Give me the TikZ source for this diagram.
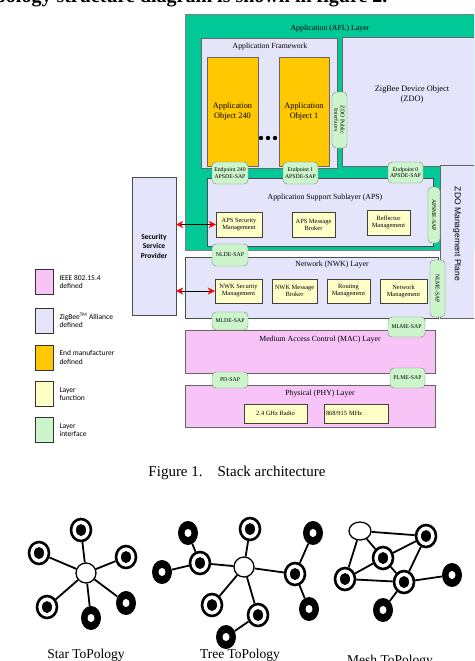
\documentclass[tikz,border=0pt]{standalone}
\usepackage{fontspec}
\setmainfont{Liberation Serif}
\newfontfamily\calfont{Carlito}
\newfontfamily\arialfont{Liberation Sans}
\usetikzlibrary{arrows.meta,shapes.geometric}
\definecolor{aplgreen}{RGB}{0,200,150}
\definecolor{zblav}{RGB}{228,228,250}
\definecolor{mforange}{RGB}{255,200,0}
\definecolor{fnyellow}{RGB}{255,255,200}
\definecolor{sapgreen}{RGB}{204,245,204}
\definecolor{ieeepink}{RGB}{248,196,248}

\begin{document}
\begin{tikzpicture}[x=1pt,y=-1pt,>=Stealth,
        lbl/.style={font=\fontsize{7.8}{8.5}\selectfont,align=center},
        fnbox/.style={draw=black!75,fill=fnyellow,inner sep=0pt,align=center,font=\fontsize{6.4}{7}\selectfont},
        sapbox/.style={draw=black!50,fill=sapgreen,rounded corners=4pt,inner sep=0pt,align=center,font=\fontsize{5.8}{6.3}\selectfont},
        objbox/.style={draw=black!60,fill=mforange,inner sep=0pt,align=center,font=\fontsize{8.3}{10}\selectfont},
        swatch/.style={draw=black!80,line width=0.8pt,minimum width=18pt,minimum height=25pt,inner sep=0pt},
        legtext/.style={anchor=west,align=left,font=\calfont\fontsize{7.5}{8.5}\selectfont},
        hubnode/.style={ellipse,draw,line width=1.3pt,fill=white,minimum width=20pt,minimum height=20pt,inner sep=0pt},
        rtrnode/.style={ellipse,draw,line width=2.6pt,fill=white,minimum width=20pt,minimum height=22pt,inner sep=0pt,
            path picture={\fill[black] (path picture bounding box.center) ellipse [x radius=5pt,y radius=6pt];}},
        endnode/.style={ellipse,fill=black,minimum width=20pt,minimum height=24pt,inner sep=0pt,
            path picture={\fill[white] (path picture bounding box.center) ellipse [x radius=3.5pt,y radius=4pt];}},
        link/.style={line width=1.8pt},
        redtips/.style={{Stealth[red,length=7pt,width=7pt]}-{Stealth[red,length=7pt,width=7pt]}}]
            \useasboundingbox (0,0) rectangle (474,661);
            \clip (0,0) rectangle (474,661);
            \node[anchor=base east,font=\bfseries\fontsize{20}{24}\selectfont] (intro) at (391,2.5) {topology structure diagram is shown in figure 2.};
            \filldraw[fill=aplgreen,draw=black!50] (185,14) rectangle (476,250);
            \node[lbl] (apl) at (330,29) {Application (AFL) Layer};
            \filldraw[fill=zblav,draw=black!60] (201,38) rectangle (337,168);
            \node[lbl] (frame) at (270,47) {Application Framework};
            \node[objbox,minimum width=51pt,minimum height=109pt] (obj240) at (232.5,111.5) {Application\\Object 240};
            \node[objbox,minimum width=50pt,minimum height=109pt] (obj1) at (304,111.5) {Application\\Object 1};
            \fill (261,138) circle [radius=2.2pt];
            \fill (268,138) circle [radius=2.2pt];
            \fill (275,138) circle [radius=2.2pt];
            \filldraw[fill=zblav,draw=black!60] (342,37) rectangle (476,166);
            \node[lbl,font=\fontsize{8.3}{10}\selectfont] (zdo) at (412,95) {ZigBee Device Object\\(ZDO)};
            \node[sapbox,rotate=-90,minimum width=56pt,minimum height=15pt] (zdopub) at (339.5,120) {ZDO Public\\Interfaces};
            \filldraw[fill=zblav,draw=black!60] (440,165) rectangle (476,318);
            \node[rotate=-90,font=\arialfont\fontsize{8.5}{10}\selectfont] (plane) at (457,234) {ZDO Management Plane};
            \filldraw[fill=zblav,draw=black!70] (207,178) rectangle (433,246);
            \node[lbl] (aps) at (325,198) {Application Support Sublayer (APS)};
            \node[fnbox,minimum width=46pt,minimum height=25pt] (apssec) at (239,224.5) {APS Security\\Management};
            \node[fnbox,minimum width=43pt,minimum height=25pt] (apsmsg) at (313.5,224.5) {APS Message\\Broker};
            \node[fnbox,minimum width=43pt,minimum height=25pt] (reflect) at (388.5,222.5) {Reflector\\Management};
            \node[sapbox,minimum width=36pt,minimum height=22pt] (ep240) at (230,173) {Endpoint 240\\APSDE-SAP};
            \node[sapbox,minimum width=35pt,minimum height=22pt] (ep1) at (300.5,173) {Endpoint 1\\APSDE-SAP};
            \node[sapbox,minimum width=35pt,minimum height=21pt] (ep0) at (405.5,172.5) {Endpoint 0\\APSDE-SAP};
            \node[sapbox,rotate=-90,minimum width=56pt,minimum height=12pt] (apsme) at (434,215) {APSME-SAP};
            \filldraw[fill=zblav,draw=black!70] (185,257) rectangle (438,318);
            \node[lbl] (nwk) at (332,265) {Network (NWK) Layer};
            \node[fnbox,minimum width=47pt,minimum height=24pt] (nwksec) at (238.5,291) {NWK Security\\Management};
            \node[fnbox,minimum width=45pt,minimum height=24pt] (nwkmsg) at (294.5,291) {NWK Message\\Broker};
            \node[fnbox,minimum width=43pt,minimum height=24pt] (routing) at (348.5,291) {Routing\\Management};
            \node[fnbox,minimum width=47pt,minimum height=24pt] (netmgmt) at (403.5,291) {Network\\Management};
            \node[sapbox,minimum width=36pt,minimum height=22pt] (nlde) at (230,255) {NLDE-SAP};
            \node[sapbox,rotate=-90,minimum width=57pt,minimum height=15pt] (nlme) at (437.5,288.5) {NLME-SAP};
            \filldraw[fill=ieeepink,draw=black!60] (185,330) rectangle (435,373);
            \node[lbl] (mac) at (320,340) {Medium Access Control (MAC) Layer};
            \node[sapbox,minimum width=36pt,minimum height=18pt] (mlde) at (230,321) {MLDE-SAP};
            \node[sapbox,minimum width=37pt,minimum height=20pt] (mlme) at (406.5,327) {MLME-SAP};
            \filldraw[fill=ieeepink,draw=black!60] (185,385) rectangle (435,427);
            \node[lbl] (phy) at (320,394) {Physical (PHY) Layer};
            \node[fnbox,minimum width=63pt,minimum height=19pt] (radio) at (275.5,413.5) {2.4 GHz Radio};
            \node[fnbox,minimum width=64pt,minimum height=19pt,text width=60pt,align=left] (mhz) at (356,413.5) {868/915 MHz};
            \node[sapbox,minimum width=36pt,minimum height=16pt] (pdsap) at (230,380) {PD-SAP};
            \node[sapbox,minimum width=35pt,minimum height=20pt] (plme) at (407.5,378) {PLME-SAP};
            \node[draw=black!70,fill=zblav,minimum width=44pt,minimum height=138pt,inner sep=0pt,align=center,
                font=\calfont\bfseries\fontsize{7.5}{9.5}\selectfont] (ssp) at (154,246) {Security\\Service\\Provider};
            \draw[redtips] (ssp.east |- apssec.west) -- (apssec.west);
            \draw[redtips] (ssp.east |- nwksec.west) -- (nwksec.west);
            \foreach \col/\yy/\txt [count=\i] in {ieeepink/282/{IEEE 802.15.4\\defined},
                    zblav/320.5/{ZigBee\textsuperscript{TM} Alliance\\defined},
                    mforange/357.5/{End manufacturer\\defined},
                    fnyellow/394/{Layer\\function},
                    sapgreen/430/{Layer\\interface}} {
                \node[swatch,fill=\col] (sw\i) at (44,\yy) {};
                \node[legtext] (leg\i) at (56,\yy) {\txt};
            }
            \node[font=\fontsize{15}{18}\selectfont] (cap) at (237,473) {Figure 1.\quad Stack architecture};
            \node[hubnode] (shub) at (86,573) {};
            \node[rtrnode] (s1) at (81,530) {};
            \node[rtrnode] (s2) at (39,553) {};
            \node[rtrnode] (s3) at (126,557) {};
            \node[rtrnode] (s4) at (47,607) {};
            \node[endnode] (s5) at (91,618) {};
            \node[endnode] (s6) at (126,603) {};
            \foreach \n in {s1,s2,s3,s4,s5,s6}
                \draw[link] (shub) -- (\n);
            \node[font=\fontsize{13.5}{16}\selectfont] (starlbl) at (86,655) {Star ToPology};
            \node[hubnode] (thub) at (244,567) {};
            \node[rtrnode] (t1) at (250,529) {};
            \node[rtrnode] (t2) at (200,563) {};
            \node[rtrnode] (t3) at (295,574) {};
            \node[rtrnode] (t4) at (212,605) {};
            \node[rtrnode] (t5) at (258,615) {};
            \node[endnode] (t6) at (188,533) {};
            \node[endnode] (t7) at (162,572) {};
            \node[endnode] (t8) at (313,533) {};
            \node[endnode] (t9) at (309,609) {};
            \node[endnode] (t10) at (226,637) {};
            \foreach \a/\b in {thub/t1,thub/t2,thub/t3,thub/t4,thub/t5,t2/t6,t2/t7,t3/t8,t3/t9,t5/t10}
                \draw[link] (\a) -- (\b);
            \node[font=\fontsize{13.5}{16}\selectfont] (treelbl) at (240,655) {Tree ToPology};
            \node[hubnode,minimum width=22pt,minimum height=18pt] (mhub) at (360,531) {};
            \node[rtrnode] (m1) at (426,536) {};
            \node[rtrnode] (m2) at (383,558) {};
            \node[rtrnode] (m3) at (345,579) {};
            \node[rtrnode] (m4) at (404,582) {};
            \node[endnode] (m5) at (452,575) {};
            \node[endnode] (m6) at (383,610) {};
            \foreach \a/\b in {mhub/m1,mhub/m2,mhub/m3,m3/m2,m2/m1,m2/m4,m3/m4,m1/m4,m4/m5,m4/m6}
                \draw[link] (\a) -- (\b);
            \node[font=\fontsize{13.5}{16}\selectfont] (meshlbl) at (390,661) {Mesh ToPology};
        \end{tikzpicture}
\end{document}
